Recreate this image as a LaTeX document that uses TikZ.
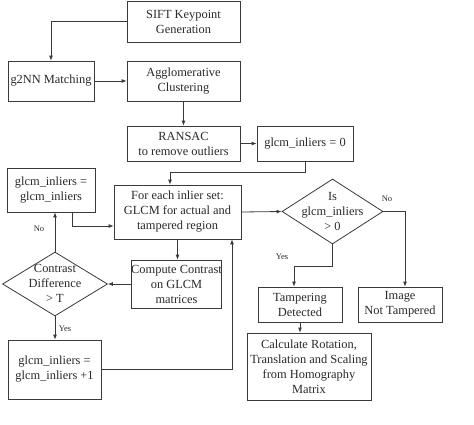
\documentclass[tikz,border=0pt]{standalone}
\usepackage{fontspec}
\setmainfont{Liberation Serif}
\usetikzlibrary{shapes.geometric,arrows.meta}
\definecolor{linec}{HTML}{3A3A3A}
\definecolor{txtc}{HTML}{2A2A2A}
\tikzset{
  box/.style={draw=linec, line width=0.8pt, rectangle, align=center, inner sep=0pt, text=txtc, font=\fontsize{12.4}{15}\selectfont},
  dia/.style={draw=linec, line width=0.8pt, diamond, inner sep=0pt},
  diatext/.style={align=center, text=txtc, font=\fontsize{12.4}{15}\selectfont},
  lbl/.style={text=txtc, font=\fontsize{8.5}{10}\selectfont, inner sep=0pt},
  arr/.style={draw=linec, line width=0.8pt, -{Latex[length=5pt,width=4pt]}}
}
\begin{document}
\begin{tikzpicture}[x=1pt,y=-1pt]
\useasboundingbox (0,0) rectangle (474,424);
\fill[white] (0,0) rectangle (474,424);
\node[box, minimum width=113, minimum height=41] (sift) at (183.5,21.5) {SIFT Keypoint\\Generation};
\node[box, minimum width=86, minimum height=40] (g2nn) at (51,81) {g2NN Matching};
\node[box, minimum width=113, minimum height=40] (agg) at (183.5,81) {Agglomerative\\Clustering};
\node[box, minimum width=113, minimum height=35] (ransac) at (183.5,143.5) {RANSAC\\to remove outliers};
\node[box, minimum width=96, minimum height=35] (g0) at (305,143.5) {glcm\_inliers = 0};
\node[box, minimum width=127, minimum height=54] (each) at (177.5,212) {For each inlier set:\\GLCM for actual and\\tampered region};
\node[box, minimum width=88, minimum height=44] (geq) at (51,190) {glcm\_inliers =\\glcm\_inliers};
\node[dia, minimum width=105, minimum height=64] (cd) at (55,284) {};
\node[diatext] (cdt) at (55,283) {Contrast\\Difference\\> T};
\node[box, minimum width=89, minimum height=48] (cc) at (176.5,284) {Compute Contrast\\on GLCM\\matrices};
\node[box, minimum width=93, minimum height=59] (gp1) at (54.5,369.5) {glcm\_inliers =\\glcm\_inliers +1};
\node[dia, minimum width=101, minimum height=65] (isd) at (332.5,211.5) {};
\node[diatext] (isdt) at (332.5,211.5) {Is\\glcm\_inliers\\> 0};
\node[box, minimum width=84, minimum height=35] (tamp) at (300,304.5) {Tampering\\Detected};
\node[box, minimum width=84, minimum height=35] (img) at (400,304.5) {Image\\Not Tampered};
\node[box, minimum width=124, minimum height=67] (calc) at (309,366.5) {Calculate Rotation,\\Translation and Scaling\\from Homography\\Matrix};
% connectors
\draw[arr] (sift.west) -| (g2nn.north);
\draw[arr] (g2nn.east) -- (agg.west);
\draw[arr] (agg.south) -- (ransac.north);
\draw[arr] (ransac.east) -- (g0.west);
\draw[arr] (g0.south) -- ++(0,11) -| ([xshift=-7.5pt]each.north);
\draw[arr] ([xshift=21pt]geq.south) |- ([yshift=-14pt]each.west);
\draw[arr] (cd.north) -- (cd.north |- geq.south);
\draw[arr] (cd.south) -- (cd.south |- gp1.north);
\draw[arr] (each.south) -- (each.south |- cc.north);
\draw[arr] (cc.west) -- (cd.east);
\draw[arr] (gp1.east) -| ([xshift=54.5pt]each.south);
\draw[arr] (each.east) -- (isd.west);
\draw[arr] (isd.east) -| ([xshift=5pt]img.north);
\draw[arr] (isd.south) -- ++(0,22) -| ([xshift=-6pt]tamp.north);
\draw[arr] (tamp.south) -- (tamp.south |- calc.north);
% labels
\node[lbl] (lno1) at (39,229) {No};
\node[lbl] (lyes1) at (65,329) {Yes};
\node[lbl] (lno2) at (387,199) {No};
\node[lbl] (lyes2) at (282,257) {Yes};
\end{tikzpicture}
\end{document}
